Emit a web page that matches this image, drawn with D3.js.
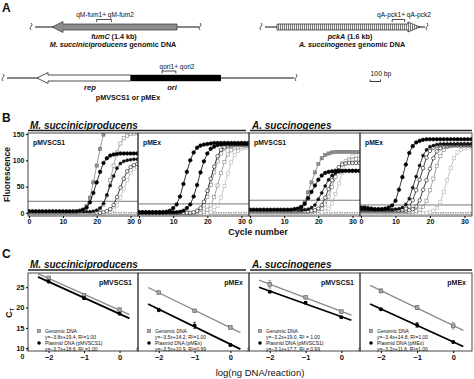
<!DOCTYPE html>
<html><head><meta charset="utf-8">
<script src="https://cdn.jsdelivr.net/npm/d3@7"></script>
<style>body{margin:0;background:#fff}svg{display:block}text{font-family:"Liberation Sans",Arial,Helvetica,sans-serif}</style>
</head><body>
<svg id="chart"></svg>
<script>
// ---------------- DATA ----------------
// Panel A (gene maps, lengths in bp)
const geneNames = ["fumC", "pckA"];
const geneLengthsBp = [1400, 1600];
const geneSizeLabels = ["(1.4 kb)", "(1.6 kb)"];
const organismNames = ["M. succiniciproducens", "A. succinogenes"];
const primerNames = ["qM-fum1+ qM-fum2", "qA-pck1+ qA-pck2", "qori1+ qori2"];
const primerSpansBp = [[500, 665], [1290, 1430], [350, 505]];
const plasmidSegmentNames = ["rep", "ori"];
const plasmidSegmentsBp = [1050, 1010];
const plasmidName = "pMVSCS1 or pMEx";
const scaleBarBp = 100;

// Panel B (fluorescence vs cycle, cycles 0..32)
const cycles = d3.range(0, 33);
const cycleTicks = [0, 10, 20, 30];
const fluorTicks = [0, 50, 100, 150];
const panelLabels = ["pMVSCS1", "pMEx", "pMVSCS1", "pMEx"];
const thresholds = [22, 17, 24, 15];
// M. succiniciproducens / pMVSCS1
const msV1 = [1,1,1,1,1,1,1,1,1,1,1,1,1,1,1,3,6,13,29,58,90,122,149,166,173,176,180,180,180,180,180,180,180];
const msV2 = [3,3,3,3,3,3,3,3,3,3,3,3,3,3,3,4,6,10,20,38,58,78,95,104,109,111,112,113,113,113,113,113,113];
const msV3 = [2,2,2,2,2,2,2,2,2,2,2,2,2,2,2,2,2,2,2,3,5,9,18,34,52,70,85,94,98,100,101,102,102];
const msV4 = [0,0,0,0,0,0,0,0,0,0,0,0,0,0,0,0,0,0,0,1,3,7,15,33,62,90,115,132,142,147,150,151,152];
const msV5 = [0,0,0,0,0,0,0,0,0,0,0,0,0,0,0,0,0,0,0,0,0,0,1,3,7,15,30,48,65,79,87,91,93];
const msV6 = [-1,-1,-1,-1,-1,-1,-1,-1,-1,-1,-1,-1,-1,-1,-1,-1,-1,-1,-1,-1,-1,-1,-1,0,2,6,14,29,46,62,76,84,88];
// M. succiniciproducens / pMEx
const msE1 = [1,1,1,1,1,1,1,1,2,4,9,16,31,55,78,100,115,124,128,130,131,132,133,133,133,133,133,133,133,133,133,133,133];
const msE2 = [1,1,1,1,1,1,1,1,1,1,1,1,2,4,9,16,31,53,77,98,113,122,126,129,130,131,131,131,131,131,131,131,131];
const msE3 = [0,0,0,0,0,0,0,0,0,0,0,0,0,0,0,0,1,4,9,21,42,65,88,108,120,125,128,129,130,130,130,130,130];
const msE4 = [0,0,0,0,0,0,0,0,0,0,0,0,0,0,0,0,0,2,6,14,30,53,77,98,113,121,125,127,128,129,129,129,129];
const msE5 = [0,0,0,0,0,0,0,0,0,0,0,0,0,0,0,0,0,0,0,2,6,14,30,52,76,97,111,119,123,125,126,127,127];
const msE6 = [-1,-1,-1,-1,-1,-1,-1,-1,-1,-1,-1,-1,-1,-1,-1,-1,-1,-1,-1,-1,-1,1,5,13,29,51,75,96,110,118,122,124,125];
// A. succinogenes / pMVSCS1
const asV1 = [4,4,4,4,4,4,4,4,4,4,4,4,4,5,7,11,21,39,58,77,93,104,110,113,115,116,116,116,116,116,116,116,116];
const asV2 = [6,6,6,6,6,6,6,6,6,6,6,6,6,7,8,11,17,28,40,52,63,71,76,78,79,80,80,80,80,80,80,80,80];
const asV3 = [5,5,5,5,5,5,5,5,5,5,5,5,5,5,5,5,6,7,10,15,26,38,51,63,71,76,78,79,80,80,80,80,80];
const asV4 = [3,3,3,3,3,3,3,3,3,3,3,3,3,3,3,3,3,3,4,5,8,15,29,45,62,77,87,92,94,95,95,95,95];
const asV5 = [2,2,2,2,2,2,2,2,2,2,2,2,2,2,2,2,2,2,2,3,4,8,16,31,49,68,84,94,98,100,101,102,102];
const asV6 = [0,0,0,0,0,0,0,0,0,0,0,0,0,0,0,0,0,0,0,0,0,1,3,8,18,36,56,76,93,103,108,110,111];
// A. succinogenes / pMEx
const asE1 = [10,10,9,8,7,7,7,8,10,14,23,44,68,92,114,127,134,137,139,140,140,140,140,140,140,140,140,140,140,140,140,140,140];
const asE2 = [6,6,6,6,6,6,6,6,6,6,7,8,10,16,27,48,69,90,109,120,126,128,130,131,131,131,131,131,131,131,131,131,131];
const asE3 = [5,5,5,5,5,5,5,5,5,5,5,5,6,8,12,24,43,63,85,105,118,124,127,129,130,130,130,130,130,130,130,130,130];
const asE4 = [4,4,4,4,4,4,4,4,4,4,4,4,4,4,5,7,12,24,44,62,84,104,117,123,126,127,128,128,128,128,128,128,128];
const asE5 = [2,2,2,2,2,2,2,2,2,2,2,2,2,2,2,2,3,6,11,23,43,65,89,108,120,126,128,129,130,130,130,130,130];
const asE6 = [0,0,0,0,0,0,0,0,0,0,0,0,0,0,0,0,0,0,0,0,1,4,9,20,40,62,85,104,115,120,123,124,125];

// Panel C (CT vs log DNA amount)
const logDNA = [-2, -1, 0];
const logTicks = [-2, -1, 0];
const ctTicks = [10, 15, 20, 25];
const ctMsV_genomic = [27.3, 23.0, 19.5];
const ctMsV_plasmid = [26.4, 22.3, 18.5];
const ctMsE_genomic = [23.7, 19.2, 15.1];
const ctMsE_plasmid = [19.4, 15.6, 10.8];
const ctAsV_genomic = [25.7, 22.5, 19.0];
const ctAsV_plasmid = [23.9, 21.2, 17.6];
const ctAsE_genomic = [24.1, 20.0, 15.5];
const ctAsE_plasmid = [19.6, 15.7, 11.5];
const errMsV_genomic = [0.3, 0.2, 0.2], errMsV_plasmid = [0.3, 0.3, 0.2];
const errMsE_genomic = [0.2, 0.3, 0.3], errMsE_plasmid = [0.4, 0.8, 0.3];
const errAsV_genomic = [0.9, 0.2, 0.3], errAsV_plasmid = [0.2, 0.2, 0.2];
const errAsE_genomic = [0.5, 0.5, 0.8], errAsE_plasmid = [0.2, 0.6, 0.2];
const legendMsV = ["Genomic DNA", "y=\u22123.8x+19.4, R\u00b2=1.00", "Plasmid DNA (pMVSCS1)", "y=\u22123.7x+18.6, R\u00b2 =1.00"];
const legendMsE = ["Genomic DNA", "y=\u22123.5x+14.2, R\u00b2=1.00", "Plasmid DNA (pMEx)", "y=\u22123.5x+10.9, R\u00b2=0.99"];
const legendAsV = ["Genomic DNA", "y=\u22123.2x+19.0, R\u00b2 = 1.00", "Plasmid DNA (pMVSCS1)", "y=\u22123.1x+17.7, R\u00b2 = 0.99"];
const legendAsE = ["Genomic DNA", "y=\u22123.4x+14.8, R\u00b2=1.00", "Plasmid DNA (pMEx)", "y=\u22123.2x+11.6, R\u00b2=1.00"];

// ---------------- DRAWING ----------------
const W = 474, H = 379;
const svg = d3.select("#chart").attr("width", W).attr("height", H);
const defs = svg.append("defs");

function txt(g, x, y, parts, size, anchor) {
  const t = g.append("text").attr("x", x).attr("y", y).attr("font-size", size)
    .attr("text-anchor", anchor || "start").attr("fill", "#111");
  parts.forEach(p => {
    t.append("tspan").text(p.t).attr("font-weight", p.b ? "bold" : "normal")
      .attr("font-style", p.i ? "italic" : "normal");
  });
  return t;
}
function squiggle(g, x, y) {
  g.append("path").attr("d", `M${x - 1},${y - 3.5} q2.2,1.7 0,3.5 q-2.2,1.7 0,3.5`)
    .attr("fill", "none").attr("stroke", "#222").attr("stroke-width", 0.8);
}
function bracket(g, x0, x1, y) {
  g.append("path").attr("d", `M${x0},${y + 2.5} V${y} H${x1} V${y + 2.5}`)
    .attr("fill", "none").attr("stroke", "#222").attr("stroke-width", 0.8);
}
function arrowPath(tipX, endX, y, head, bh, hh) {
  const dir = endX > tipX ? 1 : -1;
  const hb = tipX + dir * head;
  return `M${tipX},${y} L${hb},${y - hh} L${hb},${y - bh} L${endX},${y - bh} L${endX},${y + bh} L${hb},${y + bh} L${hb},${y + hh} Z`;
}

// ---- Panel A ----
const gA = svg.append("g");
txt(gA, 2, 12, [{t: "A", b: 1}], 12);
const pxPerBp = 0.0893;
const rowScale = (origin, dir) => d3.scaleLinear().domain([0, 1000]).range([origin, origin + dir * 1000 * pxPerBp]);

// fumC row (arrow points left)
const yR1 = 27;
{
  const s = rowScale(52, 1);
  gA.append("line").attr("x1", 35).attr("x2", 199).attr("y1", yR1).attr("y2", yR1).attr("stroke", "#111").attr("stroke-width", 1.2);
  squiggle(gA, 32, yR1 - 0.5); squiggle(gA, 201, yR1 - 0.5);
  gA.append("path").attr("d", arrowPath(s(0), s(geneLengthsBp[0]), yR1, 11, 3, 5.5))
    .attr("fill", "#8c8c8c").attr("stroke", "#333").attr("stroke-width", 0.7);
  bracket(gA, s(primerSpansBp[0][0]), s(primerSpansBp[0][1]), 19.5);
  txt(gA, (s(primerSpansBp[0][0]) + s(primerSpansBp[0][1])) / 2 + 1, 17, [{t: primerNames[0]}], 6.6, "middle");
  txt(gA, 114, 38.5, [{t: geneNames[0], b: 1, i: 1}, {t: " " + geneSizeLabels[0], b: 1}], 7.2, "middle");
  txt(gA, 113, 47, [{t: organismNames[0], b: 1, i: 1}, {t: " genomic DNA", b: 1}], 7.2, "middle");
}
// pckA row (arrow points right, hatched)
{
  const pat = defs.append("pattern").attr("id", "hatch").attr("width", 2).attr("height", 12)
    .attr("patternUnits", "userSpaceOnUse");
  pat.append("rect").attr("width", 2).attr("height", 12).attr("fill", "#fff");
  pat.append("line").attr("x1", 0.6).attr("x2", 0.6).attr("y1", 0).attr("y2", 12).attr("stroke", "#444").attr("stroke-width", 0.8);
  const s = rowScale(277, 1);
  gA.append("line").attr("x1", 265).attr("x2", 425).attr("y1", yR1).attr("y2", yR1).attr("stroke", "#111").attr("stroke-width", 1.2);
  squiggle(gA, 262, yR1 - 0.5); squiggle(gA, 428, yR1 - 0.5);
  gA.append("path").attr("d", arrowPath(s(geneLengthsBp[1]), s(0), yR1, 12, 3, 5))
    .attr("fill", "url(#hatch)").attr("stroke", "#222").attr("stroke-width", 0.7);
  bracket(gA, s(primerSpansBp[1][0]), s(primerSpansBp[1][1]), 19.5);
  txt(gA, 404, 17, [{t: primerNames[1]}], 6.6, "middle");
  txt(gA, 350, 38.5, [{t: geneNames[1], b: 1, i: 1}, {t: " " + geneSizeLabels[1], b: 1}], 7.2, "middle");
  txt(gA, 352, 47, [{t: organismNames[1], b: 1, i: 1}, {t: " genomic DNA", b: 1}], 7.2, "middle");
}
// plasmid row
const yR2 = 78;
{
  const s = rowScale(37, 1);
  gA.append("line").attr("x1", 7).attr("x2", 294).attr("y1", yR2).attr("y2", yR2).attr("stroke", "#111").attr("stroke-width", 1.2);
  squiggle(gA, 4, yR2 - 0.5); squiggle(gA, 297, yR2 - 0.5);
  const repEnd = s(plasmidSegmentsBp[0]);
  gA.append("path").attr("d", arrowPath(s(0), repEnd, yR2, 11, 3, 5.5))
    .attr("fill", "#fff").attr("stroke", "#222").attr("stroke-width", 0.8);
  const so = rowScale(repEnd, 1);
  gA.append("rect").attr("x", repEnd).attr("y", yR2 - 3.2).attr("width", so(plasmidSegmentsBp[1]) - repEnd).attr("height", 6.4).attr("fill", "#000");
  bracket(gA, so(primerSpansBp[2][0]), so(primerSpansBp[2][1]), 71);
  txt(gA, 177, 68.5, [{t: primerNames[2]}], 6.6, "middle");
  txt(gA, 90, 90, [{t: plasmidSegmentNames[0], b: 1, i: 1}], 7.6, "middle");
  txt(gA, 172, 90, [{t: plasmidSegmentNames[1], b: 1, i: 1}], 7.6, "middle");
  txt(gA, 128, 100, [{t: plasmidName, b: 1}], 7.2, "middle");
  // scale bar
  const sb = rowScale(370, 1);
  txt(gA, 381, 75.5, [{t: scaleBarBp + " bp"}], 6.8, "middle");
  gA.append("path").attr("d", `M${sb(0)},${79.5} V${81.5} H${sb(scaleBarBp) + 1.5} V${79.5}`).attr("fill", "none").attr("stroke", "#222").attr("stroke-width", 0.9);
}

// ---- Panel B ----
const panelX = [[28, 138], [138, 249], [249, 360], [360, 472]];
const gB = svg.append("g");
txt(gB, 2, 122, [{t: "B", b: 1}], 12);
const bTop = 133, bBot = 216;
const yB = d3.scaleLinear().domain([-6, 152]).range([bBot, bTop]);
const styles = {
  light: {shape: "sq", fill: "#fff", stroke: "#b8b8b8", line: "#b8b8b8"},
  greyOpen: {shape: "sq", fill: "#fff", stroke: "#8a8a8a", line: "#8a8a8a"},
  greyFill: {shape: "sq", fill: "#8f8f8f", stroke: "#777", line: "#808080"},
  open: {shape: "c", fill: "#fff", stroke: "#111", line: "#111"},
  small: {shape: "c", fill: "#111", stroke: "#111", line: "#111", r: 1.5},
  black: {shape: "c", fill: "#000", stroke: "#000", line: "#000"}
};
const seriesB = [
  [[msV6, "light"], [msV5, "open"], [msV4, "greyOpen"], [msV3, "small"], [msV1, "greyFill"], [msV2, "black"]],
  [[msE6, "light"], [msE5, "greyOpen"], [msE4, "greyOpen"], [msE3, "open"], [msE2, "black"], [msE1, "black"]],
  [[asV6, "light"], [asV5, "greyOpen"], [asV4, "open"], [asV3, "small"], [asV1, "greyFill"], [asV2, "black"]],
  [[asE6, "light"], [asE5, "greyOpen"], [asE4, "open"], [asE3, "open"], [asE2, "small"], [asE1, "black"]]
];
panelX.forEach((px, i) => {
  const xS = d3.scaleLinear().domain([-0.3, 32.2]).range([px[0], px[1]]);
  const g = gB.append("g");
  const cid = "clipB" + i;
  defs.append("clipPath").attr("id", cid).append("rect").attr("x", px[0]).attr("y", bTop).attr("width", px[1] - px[0]).attr("height", bBot - bTop);
  const pg = g.append("g").attr("clip-path", `url(#${cid})`);
  // baseline lines
  pg.append("line").attr("x1", px[0]).attr("x2", px[1]).attr("y1", yB(-3)).attr("y2", yB(-3)).attr("stroke", "#999").attr("stroke-width", 0.8);
  pg.append("line").attr("x1", px[0]).attr("x2", px[1]).attr("y1", yB(0)).attr("y2", yB(0)).attr("stroke", "#333").attr("stroke-width", 0.7).attr("stroke-dasharray", "1.5,1");
  pg.append("line").attr("x1", px[0]).attr("x2", px[1]).attr("y1", yB(thresholds[i])).attr("y2", yB(thresholds[i])).attr("stroke", "#555").attr("stroke-width", 0.8);
  const line = d3.line().x((d, k) => xS(cycles[k])).y(d => yB(d));
  seriesB[i].forEach(([vals, st]) => {
    const s = styles[st];
    pg.append("path").attr("d", line(vals)).attr("fill", "none").attr("stroke", s.line).attr("stroke-width", 0.8);
    if (s.shape === "c") {
      pg.selectAll(null).data(vals).join("circle").attr("cx", (d, k) => xS(cycles[k])).attr("cy", d => yB(d))
        .attr("r", s.r || 1.8).attr("fill", s.fill).attr("stroke", s.stroke).attr("stroke-width", 0.6);
    } else {
      pg.selectAll(null).data(vals).join("rect").attr("x", (d, k) => xS(cycles[k]) - 1.6).attr("y", d => yB(d) - 1.6)
        .attr("width", 3.2).attr("height", 3.2).attr("fill", s.fill).attr("stroke", s.stroke).attr("stroke-width", 0.6);
    }
  });
  // frame
  g.append("rect").attr("x", px[0]).attr("y", bTop).attr("width", px[1] - px[0]).attr("height", bBot - bTop)
    .attr("fill", "none").attr("stroke", "#333").attr("stroke-width", 0.9);
  // x axis
  const ax = g.append("g").attr("transform", `translate(0,${bBot})`).call(d3.axisBottom(xS).tickValues(cycleTicks).tickSize(2).tickPadding(1.5));
  ax.select(".domain").remove();
  ax.selectAll("text").attr("font-size", 7).attr("font-weight", "bold").attr("fill", "#111");
  txt(g, px[0] + 5, 145, [{t: panelLabels[i], b: 1}], 6.8);
  if (i === 0) {
    const ay = g.append("g").attr("transform", `translate(${px[0]},0)`).call(d3.axisLeft(yB).tickValues(fluorTicks).tickSize(2).tickPadding(1.5));
    ay.select(".domain").remove();
    ay.selectAll("text").attr("font-size", 7).attr("font-weight", "bold").attr("fill", "#111");
  }
});
// section headers
function header(g, x0, x1, yText, yLine, name) {
  txt(g, x0 + 2, yText, [{t: name, b: 1, i: 1}], 10);
  g.append("line").attr("x1", x0).attr("x2", x1).attr("y1", yLine).attr("y2", yLine).attr("stroke", "#222").attr("stroke-width", 1.3);
}
header(gB, 28, 246, 128.5, 130.5, organismNames[0]);
header(gB, 250, 472, 128.5, 130.5, organismNames[1]);
gB.append("text").attr("transform", `translate(10,${(bTop + bBot) / 2}) rotate(-90)`).attr("text-anchor", "middle")
  .attr("font-size", 8.5).attr("font-weight", "bold").attr("fill", "#111").text("Fluorescence");
txt(gB, 258, 235, [{t: "Cycle number", b: 1}], 9, "middle");

// ---- Panel C ----
const gC = svg.append("g");
txt(gC, 2, 258, [{t: "C", b: 1}], 12);
const cTop = 273, cBot = 351;
const yC = d3.scaleLinear().domain([9.3, 28.5]).range([cBot, cTop]);
const cSeries = [
  {g: ctMsV_genomic, p: ctMsV_plasmid, eg: errMsV_genomic, ep: errMsV_plasmid, leg: legendMsV},
  {g: ctMsE_genomic, p: ctMsE_plasmid, eg: errMsE_genomic, ep: errMsE_plasmid, leg: legendMsE},
  {g: ctAsV_genomic, p: ctAsV_plasmid, eg: errAsV_genomic, ep: errAsV_plasmid, leg: legendAsV},
  {g: ctAsE_genomic, p: ctAsE_plasmid, eg: errAsE_genomic, ep: errAsE_plasmid, leg: legendAsE}
];
function fit(xs, ys) {
  const mx = d3.mean(xs), my = d3.mean(ys);
  const b = d3.sum(xs, (x, k) => (x - mx) * (ys[k] - my)) / d3.sum(xs, x => (x - mx) * (x - mx));
  return x => my + b * (x - mx);
}
panelX.forEach((px, i) => {
  const xS = d3.scaleLinear().domain([-2.58, 0.52]).range([px[0], px[1]]);
  const g = gC.append("g");
  const d = cSeries[i];
  const ext = [-2.3, 0.28];
  [[d.g, d.eg, "#8a8a8a", 1.3, "sq"], [d.p, d.ep, "#000", 1.8, "c"]].forEach(([vals, err, col, w, shape]) => {
    const f = fit(logDNA, vals);
    g.append("line").attr("x1", xS(ext[0])).attr("x2", xS(ext[1])).attr("y1", yC(f(ext[0]))).attr("y2", yC(f(ext[1])))
      .attr("stroke", col).attr("stroke-width", w);
    vals.forEach((v, k) => {
      const cx = xS(logDNA[k]);
      g.append("path").attr("d", `M${cx - 1.5},${yC(v + err[k])} H${cx + 1.5} M${cx},${yC(v + err[k])} V${yC(v - err[k])} M${cx - 1.5},${yC(v - err[k])} H${cx + 1.5}`)
        .attr("stroke", col === "#000" ? "#000" : "#666").attr("stroke-width", 0.6).attr("fill", "none");
      if (shape === "sq") g.append("rect").attr("x", cx - 1.8).attr("y", yC(v) - 1.8).attr("width", 3.6).attr("height", 3.6).attr("fill", "#aaa").attr("stroke", "#666").attr("stroke-width", 0.7);
      else g.append("circle").attr("cx", cx).attr("cy", yC(v)).attr("r", 2).attr("fill", "#000");
    });
  });
  g.append("rect").attr("x", px[0]).attr("y", cTop).attr("width", px[1] - px[0]).attr("height", cBot - cTop)
    .attr("fill", "none").attr("stroke", "#333").attr("stroke-width", 0.9);
  const ax = g.append("g").attr("transform", `translate(0,${cBot})`)
    .call(d3.axisBottom(xS).tickValues(logTicks).tickFormat(d3.format("d")).tickSize(2).tickPadding(2));
  ax.select(".domain").remove();
  ax.selectAll("text").attr("font-size", 7.5).attr("font-weight", "bold").attr("fill", "#111");
  txt(g, px[1] - 6, 285, [{t: panelLabels[i], b: 1}], 7, "end");
  // legend
  const lx = px[0] + 11;
  g.append("rect").attr("x", lx - 1.6).attr("y", 331 - 1.6).attr("width", 3.2).attr("height", 3.2).attr("fill", "#aaa").attr("stroke", "#666").attr("stroke-width", 0.6);
  g.append("circle").attr("cx", lx).attr("cy", 343).attr("r", 1.8).attr("fill", "#000");
  [331, 337, 343, 349].forEach((yy, k) => txt(g, lx + 6, yy + 2, [{t: d.leg[k]}], 5, "start"));
  // axis break marks
  g.append("path").attr("d", `M${px[0] - 2},${349} l3,-2 M${px[0] - 2},${351} l3,-2`).attr("stroke", "#333").attr("stroke-width", 0.6);
  if (i === 0) {
    const ay = g.append("g").attr("transform", `translate(${px[0]},0)`).call(d3.axisLeft(yC).tickValues(ctTicks).tickSize(2).tickPadding(1.5));
    ay.select(".domain").remove();
    ay.selectAll("text").attr("font-size", 7.5).attr("font-weight", "bold").attr("fill", "#111");
    txt(g, px[0] - 3.5, 358.5, [{t: "0", b: 1}], 7, "end");
  }
});
header(gC, 28, 246, 267.5, 270, organismNames[0]);
header(gC, 250, 472, 267.5, 270, organismNames[1]);
{
  const t = gC.append("text").attr("transform", `translate(12,313) rotate(-90)`).attr("text-anchor", "middle")
    .attr("font-size", 9).attr("font-weight", "bold").attr("fill", "#111");
  t.append("tspan").text("C");
  t.append("tspan").text("T").attr("font-size", 6).attr("dy", 2);
}
txt(gC, 260, 376, [{t: "log(ng DNA/reaction)"}], 9.5, "middle");
</script>
</body></html>
